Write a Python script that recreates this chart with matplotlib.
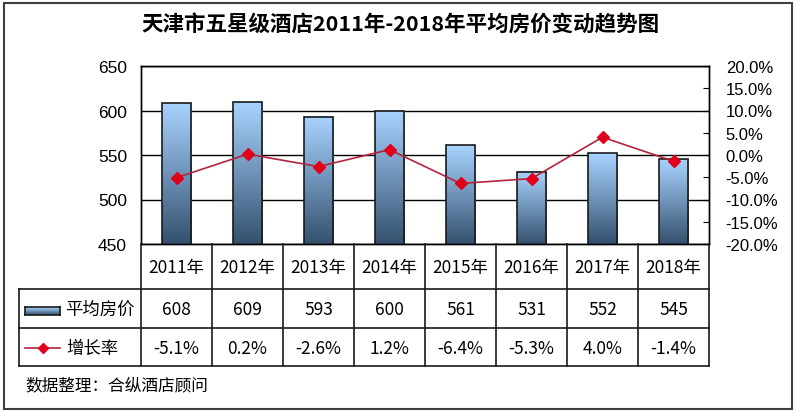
import numpy as np
import matplotlib
matplotlib.use('Agg')
import matplotlib.pyplot as plt
import matplotlib.transforms as mtransforms
from matplotlib.colors import LinearSegmentedColormap
from matplotlib.lines import Line2D
from matplotlib.patches import Rectangle

# data
years = ['2011年', '2012年', '2013年', '2014年', '2015年', '2016年', '2017年', '2018年']
avg_price = [608, 609, 593, 600, 561, 531, 552, 545]
growth = [-5.1, 0.2, -2.6, 1.2, -6.4, -5.3, 4.0, -1.4]
price_label = '平均房价'
growth_label = '增长率'
title = '天津市五星级酒店2011年-2018年平均房价变动趋势图'
source = '数据整理：合纵酒店顾问'

plt.rcParams['font.family'] = ['Noto Sans CJK SC', 'DejaVu Sans']
num_font = ['Liberation Sans', 'DejaVu Sans']

W, H = 800, 414
fig = plt.figure(figsize=(W / 100, H / 100), dpi=100)


def fx(px):
    return px / W


def fy(py):
    return 1 - py / H


# plot area
ax = fig.add_axes([fx(141), fy(245), fx(709) - fx(141), fy(67) - fy(245)])
ax2 = ax.twinx()

x = np.arange(len(years))
bar_w = 0.42
ymin, ymax = 450, 650

cmap = LinearSegmentedColormap.from_list('bar', ['#34506e', '#6f93b8', '#a8d3ff'])
grad = np.linspace(0, 1, 256).reshape(-1, 1)
for xi, v in zip(x, avg_price):
    ax.imshow(grad, cmap=cmap, origin='lower', aspect='auto', zorder=2,
              extent=[xi - bar_w / 2, xi + bar_w / 2, ymin, v])
ax.bar(x, avg_price, width=bar_w, facecolor='none', edgecolor='#1a1a1a',
       linewidth=1.2, zorder=3)

ax.set_xlim(-0.5, len(years) - 0.5)
ax.set_ylim(ymin, ymax)
ax.set_yticks(range(450, 651, 50))
ax.set_xticks([])
ax.yaxis.grid(True, color='black', linewidth=1)
ax.set_axisbelow(True)
ax.tick_params(axis='y', length=0, pad=10, labelsize=12.5)
for lbl in ax.get_yticklabels():
    lbl.set_fontfamily(num_font)
for sp in ax.spines.values():
    sp.set_color('black')
    sp.set_linewidth(1)

# growth line on the right axis
ax2.plot(x, growth, color='#b0243c', linewidth=1.2, marker='D', markersize=6,
         markerfacecolor='#e0001a', markeredgecolor='#e0001a', zorder=5)
ax2.set_ylim(-20, 20)
ax2.set_yticks(range(-20, 21, 5))
ax2.set_yticklabels([f'{t:.1f}%' for t in range(-20, 21, 5)])
ax2.tick_params(axis='y', direction='in', length=4, pad=12, labelsize=12)
for lbl in ax2.get_yticklabels():
    lbl.set_fontfamily(num_font)
for sp in ax2.spines.values():
    sp.set_color('black')
    sp.set_linewidth(1)

# data table below the plot
trans = mtransforms.blended_transform_factory(ax.transData, fig.transFigure)
lc = '#1a1a1a'
for b in np.arange(len(years) + 1) - 0.5:
    fig.add_artist(Line2D([b, b], [fy(245), fy(367)], transform=trans, color=lc, lw=1.2))
for py in (290, 329, 367):
    fig.add_artist(Line2D([fx(19), fx(709)], [fy(py), fy(py)], transform=fig.transFigure,
                          color=lc, lw=1.2))
fig.add_artist(Line2D([fx(19), fx(19)], [fy(290), fy(367)], transform=fig.transFigure,
                      color=lc, lw=1.2))

for xi, yr, v, g in zip(x, years, avg_price, growth):
    fig.text(xi, fy(268), yr, transform=trans, ha='center', va='center', fontsize=12.5)
    fig.text(xi, fy(310), str(v), transform=trans, ha='center', va='center', fontsize=12.5)
    fig.text(xi, fy(349), f'{g:.1f}%', transform=trans, ha='center', va='center', fontsize=12.5)

# legend keys inside the table
kax = fig.add_axes([fx(25), fy(316), fx(60) - fx(25), fy(308) - fy(316)])
kax.imshow(grad, cmap=cmap, origin='lower', aspect='auto')
kax.set_xticks([])
kax.set_yticks([])
for sp in kax.spines.values():
    sp.set_color('#1a1a1a')
    sp.set_linewidth(1.2)
fig.text(fx(65), fy(310), price_label, ha='left', va='center', fontsize=12.5)

fig.add_artist(Line2D([fx(25), fx(60)], [fy(349), fy(349)], transform=fig.transFigure,
                      color='#b0243c', lw=1.2))
fig.add_artist(Line2D([fx(42.5)], [fy(349)], transform=fig.transFigure, marker='D',
                      markersize=5, color='#e0001a', linestyle='none'))
fig.text(fx(66), fy(349), growth_label, ha='left', va='center', fontsize=12.5)

# title, source, frame
fig.text(0.5, fy(25), title, ha='center', va='center', fontsize=15.5, fontweight='bold')
fig.text(fx(25), fy(386), source, ha='left', va='center', fontsize=12)
fig.add_artist(Rectangle((fx(4), fy(410)), fx(792) - fx(4), fy(4) - fy(410),
                         transform=fig.transFigure, fill=False, lw=1.5, ec='#404040'))

fig.savefig('out.png', dpi=100)
